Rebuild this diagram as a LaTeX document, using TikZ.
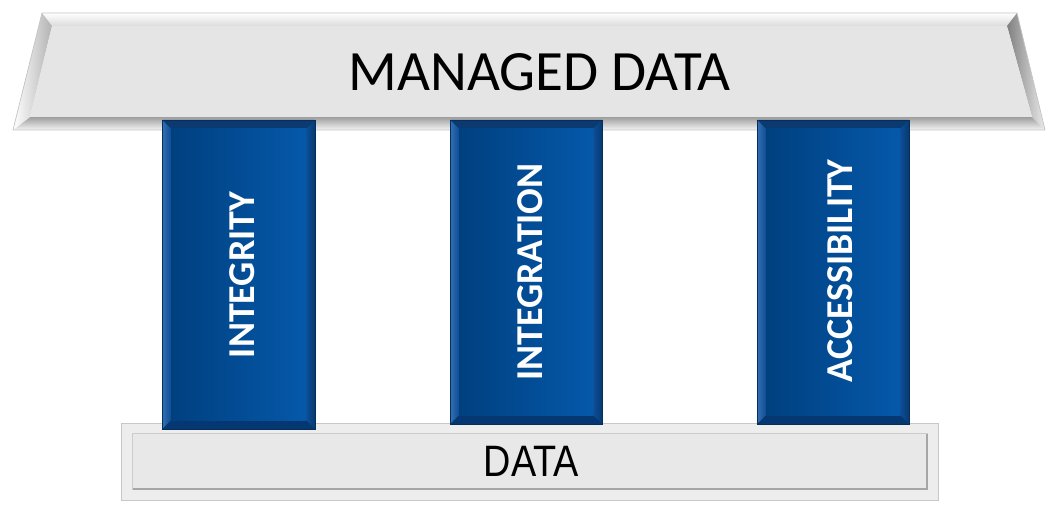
\documentclass[tikz,border=0pt]{standalone}
\usepackage{fontspec}
\usetikzlibrary{calc}
\newfontfamily\calfont{Carlito}
\newfontfamily\arfont{Liberation Sans}
\definecolor{slabface}{HTML}{E5E5E5}
\definecolor{slabrim}{HTML}{C4C4C4}
\definecolor{pilA}{HTML}{00407F}
\definecolor{pilB}{HTML}{0558AA}
\definecolor{piltopc}{HTML}{0A3A70}
\definecolor{pilbotc}{HTML}{053872}
\definecolor{pilL1}{HTML}{3570B4}
\definecolor{pilL2}{HTML}{0F4C92}
\definecolor{pilR1}{HTML}{0E4F98}
\definecolor{pilR2}{HTML}{063A72}
\definecolor{baseface}{HTML}{E8E8E8}
\definecolor{baseouter}{HTML}{EDEDED}
\newcommand\mypillar[4]{%
  \fill[pilR2] (#1,#2) rectangle (#3,#4);
  \fill[piltopc] (#1,#2) -- (#3,#2) -- ($(#3,#2)+(-9,9)$) -- ($(#1,#2)+(9,9)$) -- cycle;
  \fill[pilbotc] (#1,#4) -- (#3,#4) -- ($(#3,#4)+(-9,-9)$) -- ($(#1,#4)+(9,-9)$) -- cycle;
  \shade[left color=pilL1, right color=pilL2] (#1,#2) -- ($(#1,#2)+(9,9)$) -- ($(#1,#4)+(9,-9)$) -- (#1,#4) -- cycle;
  \shade[left color=pilR1, right color=pilR2] (#3,#2) -- ($(#3,#2)+(-9,9)$) -- ($(#3,#4)+(-9,-9)$) -- (#3,#4) -- cycle;
  \shade[left color=pilA, right color=pilB] ($(#1,#2)+(9,9)$) rectangle ($(#3,#4)+(-9,-9)$);
  \draw[pilR2!80!black, line width=0.6pt] (#1,#2) rectangle (#3,#4);
}
\tikzset{
  piltext/.style={font=\calfont\bfseries\fontsize{38}{40}\selectfont, text=white, rotate=90, inner sep=0pt},
}
\begin{document}
\begin{tikzpicture}[x=1pt,y=-1pt]
\useasboundingbox (0,0) rectangle (1060,518);
% ---------- top slab ----------
\fill[white!97!black] (42,13) -- (1017,13) -- (1045,130) -- (13,130) -- cycle;
\shade[top color=white, bottom color=black!14] (42,13) -- (1017,13) -- (1007,26) -- (52,26) -- cycle;
\shade[top color=black!38, bottom color=white!96!black] (30,117) -- (1032,117) -- (1045,130) -- (13,130) -- cycle;
\shade[left color=white, right color=black!30] (42,13) -- (52,26) -- (30,117) -- (13,130) -- cycle;
\shade[left color=black!50, right color=white!92!black] (1007,26) -- (1017,13) -- (1045,130) -- (1032,117) -- cycle;
\fill[slabface] (52,26) -- (1007,26) -- (1032,117) -- (30,117) -- cycle;
\draw[slabrim, line width=0.7pt] (42,13) -- (1017,13) -- (1045,130) -- (13,130) -- cycle;
\node[font=\calfont\fontsize{57}{60}\selectfont, inner sep=0pt] (managed) at (539.5,72.5) {MANAGED DATA};
% ---------- base ----------
\fill[baseouter] (121,423) rectangle (938,500);
\draw[black!22, line width=0.8pt] (121,423) rectangle (938,500);
\fill[baseface] (132,433) rectangle (928,490);
\draw[black!20, line width=1pt] (132,490) -- (132,433) -- (928,433);
\draw[black!35, line width=2.6pt] (133,489) -- (927,489) -- (927,434);
\node[font=\arfont\fontsize{44}{46}\selectfont, inner sep=0pt, xscale=0.86] (data) at (531.5,461) {DATA};
% ---------- pillars ----------
\mypillar{162}{120}{315}{429}
\mypillar{450}{120}{602}{424}
\mypillar{757}{120}{909}{424}
\node[piltext] (integrity) at (242,275) {INTEGRITY};
\node[piltext] (integration) at (530,272) {INTEGRATION};
\node[piltext] (access) at (840,271) {ACCESSIBILITY};
\end{tikzpicture}
\end{document}
